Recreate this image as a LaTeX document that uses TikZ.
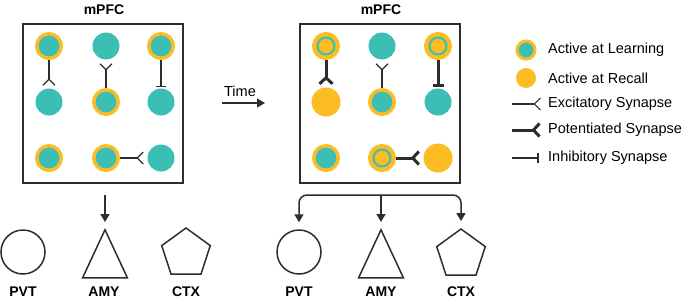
\documentclass[tikz,border=0pt]{standalone}
\usepackage{fontspec}
\setmainfont{Liberation Sans}
\usetikzlibrary{arrows.meta,shapes.geometric}
\definecolor{cellteal}{RGB}{59,191,181}
\definecolor{cellgold}{RGB}{251,188,36}
\definecolor{inkgray}{RGB}{45,45,45}
\tikzset{
  learn/.style={circle,fill=cellteal,draw=cellgold,line width=3.5pt,minimum size=24.5pt,inner sep=0pt},
  idle/.style={circle,fill=cellteal,minimum size=27pt,inner sep=0pt},
  recall/.style={circle,fill=cellgold,minimum size=29pt,inner sep=0pt},
  both/.style={circle,fill=cellgold,draw=cellgold,line width=3.5pt,minimum size=24.5pt,inner sep=0pt,
    path picture={\draw[cellteal,line width=2pt] (path picture bounding box.center) circle (8.5pt);}},
  exc/.style={inkgray,line width=1.1pt,-{Straight Barb[reversed,length=6pt,width=12pt]}},
  pot/.style={inkgray,line width=3pt,-{Straight Barb[reversed,length=6pt,width=13pt]}},
  inh/.style={inkgray,line width=1.1pt,-{Bar[width=10pt]}},
  inhthick/.style={inkgray,line width=3pt,-{Bar[width=11pt]}},
  region/.style={draw=inkgray,line width=2pt,minimum width=160pt,minimum height=159pt},
  title/.style={font=\bfseries\fontsize{14}{16}\selectfont,inner sep=0pt},
  legtext/.style={anchor=west,inner sep=0pt,font=\fontsize{14.5}{17}\selectfont},
  outline/.style={draw=inkgray,line width=1.5pt,inner sep=0pt},
  tri/.style={outline,isosceles triangle,isosceles triangle apex angle=50,shape border rotate=90,minimum height=48pt,anchor=apex},
  penta/.style={outline,regular polygon,regular polygon sides=5,minimum size=51pt},
  proj/.style={inkgray,line width=1.5pt,-{Triangle[length=8pt,width=9pt]}},
}
\begin{document}
\begin{tikzpicture}[x=1pt,y=-1pt]
  \useasboundingbox (0,0) rectangle (685,300);

  % before: mPFC at learning
  \node[title] (titleL) at (104,10) {mPFC};
  \node[region] (boxL) at (103,103.5) {};
  \foreach \row/\y in {1/46,2/102,3/158} {
    \foreach \col/\x in {1/49,2/106,3/161} {
      \coordinate (pL\row\col) at (\x,\y);
    }
  }
  \node[learn] (L11) at (pL11) {};
  \node[idle]  (L12) at (pL12) {};
  \node[learn] (L13) at (pL13) {};
  \node[idle]  (L21) at (pL21) {};
  \node[learn] (L22) at (pL22) {};
  \node[idle]  (L23) at (pL23) {};
  \node[learn] (L31) at (pL31) {};
  \node[learn] (L32) at (pL32) {};
  \node[idle]  (L33) at (pL33) {};
  \draw[exc,shorten >=2.5pt] (L11.south) -- (L21.north);
  \draw[exc,shorten >=3.5pt] (L22.north) -- (L12.south);
  \draw[inh,shorten >=1.5pt] (L13.south) -- (L23.north);
  \draw[exc,shorten >=3.5pt] (L32.east) -- (L33.west);

  % time
  \node[legtext,anchor=center] (time) at (240,91) {Time};
  \coordinate (time0) at (222,103);
  \coordinate (time1) at (265,103);
  \draw[proj] (time0) -- (time1);

  % after: mPFC at recall
  \node[title] (titleR) at (381,10) {mPFC};
  \node[region] (boxR) at (380,103.5) {};
  \foreach \row/\y in {1/46,2/102,3/158} {
    \foreach \col/\x in {1/326,2/382,3/438} {
      \coordinate (pR\row\col) at (\x,\y);
    }
  }
  \node[both]   (R11) at (pR11) {};
  \node[idle]   (R12) at (pR12) {};
  \node[both]   (R13) at (pR13) {};
  \node[recall] (R21) at (pR21) {};
  \node[learn]  (R22) at (pR22) {};
  \node[idle]   (R23) at (pR23) {};
  \node[learn]  (R31) at (pR31) {};
  \node[both]   (R32) at (pR32) {};
  \node[recall] (R33) at (pR33) {};
  \draw[pot,shorten >=2pt] (R11.south) -- (R21.north);
  \draw[exc,shorten >=3.5pt] (R22.north) -- (R12.south);
  \draw[inhthick,shorten >=1.5pt] (R13.south) -- (R23.north);
  \draw[pot,shorten >=3pt] (R32.east) -- (R33.west);

  % legend
  \node[learn,minimum size=18pt,line width=3pt] (keyLearn) at (526,50) {};
  \node[recall,minimum size=20pt] (keyRecall) at (526,78) {};
  \node[legtext] (txtLearn)  at (548,50)  {Active at Learning};
  \node[legtext] (txtRecall) at (548,78)  {Active at Recall};
  \node[legtext] (txtExc)    at (548,104) {Excitatory Synapse};
  \node[legtext] (txtPot)    at (548,130) {Potentiated Synapse};
  \node[legtext] (txtInh)    at (548,158) {Inhibitory Synapse};
  \coordinate (keyE0) at (512,104);  \coordinate (keyE1) at (541,104);
  \coordinate (keyP0) at (512,130);  \coordinate (keyP1) at (541,130);
  \coordinate (keyI0) at (512,158);  \coordinate (keyI1) at (538.5,158);
  \draw[exc] (keyE0) -- (keyE1);
  \draw[pot] (keyP0) -- (keyP1);
  \draw[inh] (keyI0) -- (keyI1);

  % targets, left
  \node[outline,circle,minimum size=44pt] (pvtL) at (23,252) {};
  \node[tri] (amyL) at (105,228) {};
  \node[penta] (ctxL) at (186,253.5) {};
  \node[title] (labPvtL) at (23,292) {PVT};
  \node[title] (labAmyL) at (104,292) {AMY};
  \node[title] (labCtxL) at (186,292) {CTX};
  \coordinate (outL) at (105,195);
  \draw[proj,shorten >=6pt] (outL) -- (amyL.apex);

  % targets, right
  \node[outline,circle,minimum size=44pt] (pvtR) at (299,252) {};
  \node[tri] (amyR) at (381,228) {};
  \node[penta] (ctxR) at (461,254.5) {};
  \node[title] (labPvtR) at (299,292) {PVT};
  \node[title] (labAmyR) at (381,292) {AMY};
  \node[title] (labCtxR) at (461,292) {CTX};
  \coordinate (outR) at (381,195);
  \draw[proj,shorten >=6pt] (outR) -- (amyR.apex);
  \draw[proj,rounded corners=8pt,shorten >=7pt] (outR) -| (pvtR.north);
  \draw[proj,rounded corners=8pt,shorten >=7pt] (outR) -| (ctxR.north);
\end{tikzpicture}
\end{document}
